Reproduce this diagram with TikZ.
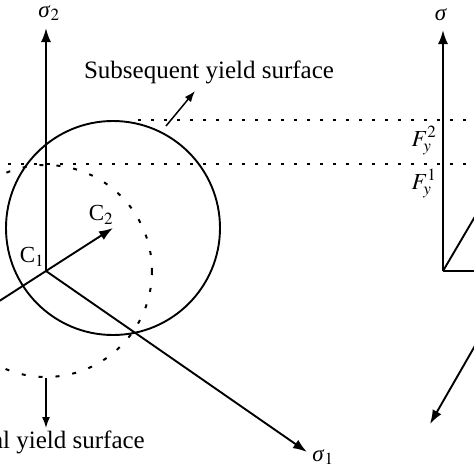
\documentclass[tikz,border=0pt]{standalone}
\usepackage{mathptmx}
\usepackage{fontspec}
\setmainfont{Liberation Serif}
\usetikzlibrary{arrows.meta}
\newcommand{\sig}{\textit{σ}}
\begin{document}
\begin{tikzpicture}[x=1pt,y=-1pt,
  axisarrow/.style={line width=1.9pt,-{Latex[length=14pt,width=10pt]}},
  smallarrow/.style={line width=1.5pt,-{Latex[length=11pt,width=8pt]}},
  solidline/.style={line width=1.9pt},
  dotline/.style={line width=1.8pt,dash pattern=on 3pt off 10pt},
  dotcirc/.style={line width=2pt,dash pattern=on 4pt off 13pt},
  lbl/.style={font=\fontsize{25}{29}\selectfont, inner sep=0pt},
  mlbl/.style={font=\fontsize{23}{26}\selectfont, inner sep=0pt}]
\useasboundingbox (0,0) rectangle (474,474);
\clip (0,0) rectangle (474,474);
% key points
\coordinate (O) at (46,271);
\coordinate (C2) at (113,228);
\coordinate (s2tip) at (46,28);
\coordinate (s1tip) at (307,452);
\coordinate (s3end) at (-10,307);
\coordinate (R) at (443,271);
\coordinate (stip) at (443,30);
\coordinate (Rh) at (480,271);
\coordinate (Rd) at (480,208);
\coordinate (brA) at (480,337);
\coordinate (brB) at (430,424);
\coordinate (d2a) at (138,120);
\coordinate (d2b) at (480,120);
\coordinate (d1a) at (8,164);
\coordinate (d1b) at (480,164);
\coordinate (subA) at (166,126);
\coordinate (subB) at (195,91);
\coordinate (iniA) at (46,378);
\coordinate (iniB) at (46,428);
% yield surfaces
\draw[solidline] (C2) circle[radius=107];
\draw[dotcirc] (O) circle[radius=106];
% dotted levels
\draw[dotline] (d2a) -- (d2b);
\draw[dotline] (d1a) -- (d1b);
% left axes
\draw[axisarrow] (O) -- (s2tip);
\draw[axisarrow] (O) -- (s1tip);
\draw[solidline] (s3end) -- (O);
\draw[axisarrow] (O) -- (C2);
% right panel
\draw[axisarrow] (R) -- (stip);
\draw[solidline] (R) -- (Rh);
\draw[solidline] (R) -- (Rd);
\draw[axisarrow] (brA) -- (brB);
% label arrows
\draw[smallarrow] (subA) -- (subB);
\draw[smallarrow] (iniA) -- (iniB);
% labels
\node[mlbl] (s2lab) at (49,13) {\sig$_2$};
\node[mlbl] (slab) at (441,15) {\sig};
\node[mlbl] (F2) at (424,141) {$F_y^2$};
\node[mlbl] (F1) at (424,184) {$F_y^1$};
\node[mlbl] (s1lab) at (323,457) {\sig$_1$};
\node[mlbl] (C1lab) at (32,257) {C$_1$};
\node[mlbl] (C2lab) at (101,215) {C$_2$};
\node[lbl,anchor=base] (sub) at (209,78) {Subsequent yield surface};
\node[lbl,anchor=base east] (ini) at (145,448) {Initial yield surface};
\end{tikzpicture}
\end{document}
